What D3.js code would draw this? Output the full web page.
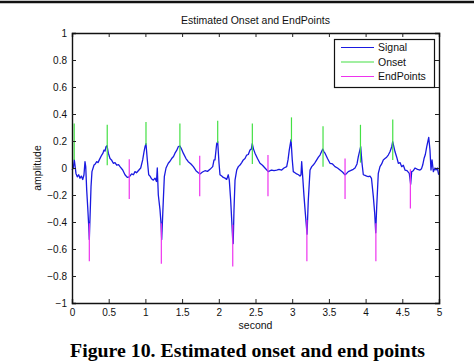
<!DOCTYPE html>
<html>
<head>
<meta charset="utf-8">
<script src="https://cdn.jsdelivr.net/npm/d3@7/dist/d3.min.js"></script>
<style>
  html, body { margin: 0; padding: 0; background: #fff; }
  svg { display: block; font-family: "Liberation Sans", Arial, Helvetica, sans-serif; }
</style>
</head>
<body>
<svg id="chart" width="474" height="364"></svg>
<script>
// ---------------- data ----------------
const title = "Estimated Onset and EndPoints";
const xLabel = "second";
const yLabel = "amplitude";
const caption = "Figure 10. Estimated onset and end points";
const seriesNames = ["Signal", "Onset", "EndPoints"];
const xTicks = [0, 0.5, 1, 1.5, 2, 2.5, 3, 3.5, 4, 4.5, 5];
const yTicks = [-1, -0.8, -0.6, -0.4, -0.2, 0, 0.2, 0.4, 0.6, 0.8, 1];

// signal samples: time (s)
const signalT = [
  0.000, 0.018, 0.031, 0.041, 0.054, 0.072, 0.091, 0.109, 0.127, 0.146,
  0.163, 0.177, 0.187, 0.200, 0.214, 0.228, 0.236, 0.249, 0.259, 0.272,
  0.300, 0.317, 0.337, 0.354, 0.372, 0.405, 0.422, 0.436, 0.450, 0.463,
  0.477, 0.495, 0.518, 0.538, 0.563, 0.586, 0.609, 0.634, 0.654, 0.691,
  0.722, 0.753, 0.781, 0.813, 0.837, 0.858, 0.879, 0.903, 0.936, 0.963,
  0.981, 0.995, 1.008, 1.026, 1.045, 1.063, 1.083, 1.108, 1.131, 1.151,
  1.162, 1.176, 1.199, 1.213, 1.222, 1.244, 1.258, 1.281, 1.312, 1.335,
  1.358, 1.383, 1.403, 1.426, 1.448, 1.471, 1.492, 1.516, 1.553, 1.584,
  1.621, 1.653, 1.689, 1.721, 1.744, 1.778, 1.812, 1.846, 1.880, 1.917,
  1.935, 1.948, 1.971, 1.985, 2.003, 2.016, 2.040, 2.061, 2.084, 2.108,
  2.129, 2.143, 2.162, 2.176, 2.189, 2.196, 2.207, 2.221, 2.244, 2.266,
  2.289, 2.312, 2.334, 2.357, 2.380, 2.402, 2.425, 2.443, 2.456, 2.473,
  2.493, 2.527, 2.561, 2.595, 2.629, 2.674, 2.698, 2.721, 2.752, 2.789,
  2.820, 2.857, 2.888, 2.925, 2.943, 2.960, 2.984, 3.001, 3.015, 3.038,
  3.061, 3.086, 3.106, 3.120, 3.129, 3.143, 3.161, 3.179, 3.198, 3.202,
  3.219, 3.243, 3.266, 3.287, 3.311, 3.334, 3.357, 3.379, 3.399, 3.416,
  3.433, 3.447, 3.481, 3.515, 3.549, 3.583, 3.617, 3.651, 3.685, 3.719,
  3.742, 3.764, 3.794, 3.832, 3.856, 3.883, 3.901, 3.933, 3.951, 3.969,
  3.992, 4.015, 4.037, 4.060, 4.080, 4.105, 4.124, 4.138, 4.151, 4.173,
  4.196, 4.219, 4.241, 4.264, 4.287, 4.309, 4.332, 4.356, 4.369, 4.401,
  4.424, 4.446, 4.469, 4.492, 4.514, 4.537, 4.564, 4.595, 4.614, 4.628,
  4.650, 4.673, 4.707, 4.741, 4.762, 4.778, 4.796, 4.814, 4.833, 4.860,
  4.877, 4.891, 4.905, 4.923, 4.946, 4.959, 4.977, 4.996
];
// signal samples: amplitude
const signalY = [
  -0.015, 0.000, 0.060, 0.020, -0.040, -0.065, -0.050, -0.076, -0.060, -0.085,
  -0.050, 0.047, 0.010, -0.160, -0.290, -0.430, -0.530, -0.310, -0.140, -0.027,
  0.022, 0.030, 0.047, 0.040, 0.060, 0.096, 0.110, 0.133, 0.125, 0.158,
  0.165, 0.110, 0.070, 0.060, 0.035, 0.040, 0.022, 0.025, 0.010, -0.015,
  -0.050, -0.070, -0.065, -0.044, -0.050, -0.027, -0.035, -0.020, 0.000, 0.060,
  0.120, 0.158, 0.180, 0.060, -0.050, -0.060, -0.080, -0.090, -0.075, -0.100,
  0.000, -0.200, -0.310, -0.410, -0.530, -0.240, -0.064, 0.000, 0.035, 0.050,
  0.070, 0.085, 0.110, 0.130, 0.158, 0.163, 0.140, 0.110, 0.070, 0.047,
  0.030, 0.010, -0.020, -0.035, -0.044, -0.030, -0.020, -0.025, -0.010, 0.010,
  0.060, 0.060, 0.180, 0.195, 0.035, -0.050, -0.060, -0.070, -0.075, -0.084,
  -0.050, -0.090, -0.240, -0.385, -0.530, -0.560, -0.310, -0.090, -0.015, 0.010,
  0.022, 0.040, 0.060, 0.070, 0.096, 0.100, 0.133, 0.140, 0.180, 0.140,
  0.110, 0.070, 0.035, 0.020, 0.000, -0.027, -0.020, -0.015, -0.020, -0.015,
  -0.010, -0.015, 0.000, 0.010, 0.060, 0.133, 0.210, 0.060, -0.027, -0.035,
  -0.044, -0.050, -0.060, -0.050, 0.047, -0.064, -0.210, -0.336, -0.460, -0.490,
  -0.240, -0.015, 0.010, 0.022, 0.040, 0.060, 0.080, 0.096, 0.120, 0.140,
  0.120, 0.110, 0.070, 0.035, 0.030, 0.010, 0.000, -0.015, -0.030, -0.050,
  -0.040, -0.027, -0.020, -0.010, 0.000, 0.030, 0.084, 0.158, 0.035, -0.050,
  -0.055, -0.060, -0.064, -0.060, -0.076, -0.210, -0.336, -0.480, -0.290, -0.040,
  0.010, 0.030, 0.060, 0.070, 0.080, 0.096, 0.120, 0.158, 0.195, 0.120,
  0.080, 0.035, 0.040, 0.010, 0.020, -0.015, -0.020, -0.040, -0.120, -0.027,
  -0.020, 0.000, -0.010, -0.015, -0.005, 0.022, 0.070, 0.100, 0.158, 0.227,
  0.133, -0.015, 0.060, -0.027, 0.000, -0.015, 0.000, -0.050
];

// onset markers (green): time, bottom, top
const onsetT    = [0.030, 0.480, 1.008, 1.470, 1.985, 2.457, 2.990, 3.420, 3.930, 4.370];
const onsetLow  = [0.060, 0.020, 0.170, 0.020, 0.185, 0.030, 0.195, 0.010, 0.040, 0.060];
const onsetHigh = [0.330, 0.320, 0.340, 0.330, 0.350, 0.330, 0.375, 0.310, 0.320, 0.360];

// end-point markers (magenta): time, bottom, top
const endT    = [0.236, 0.780, 1.217, 1.740, 2.190, 2.670, 3.200, 3.720, 4.140, 4.610];
const endLow  = [-0.69, -0.23, -0.71, -0.21, -0.73, -0.21, -0.69, -0.23, -0.69, -0.30];
const endHigh = [-0.41, 0.065, -0.41, 0.090, -0.42, 0.096, -0.385, 0.070, -0.41, -0.01];

// ---------------- drawing ----------------
const colors = { signal: "#1a1ae0", onset: "#44e044", end: "#ee33ee" };
const sansFont = "'Liberation Sans', Arial, Helvetica, sans-serif";
const serifFont = "'Liberation Serif', 'Times New Roman', Times, serif";
const svg = d3.select("#chart");
const W = 474, H = 364;
const L = 72, R = 439, T = 33, B = 303;

const x = d3.scaleLinear().domain([0, 5]).range([L, R]);
const y = d3.scaleLinear().domain([-1, 1]).range([B, T]);

// top border line of the figure
svg.append("line").attr("x1", 0).attr("x2", W).attr("y1", 2).attr("y2", 2)
  .attr("stroke", "#111").attr("stroke-width", 2.5);

// plot background
svg.append("rect").attr("x", L).attr("y", T).attr("width", R - L).attr("height", B - T)
  .attr("fill", "#fff");

// signal
const sig = signalT.map((t, i) => [t, signalY[i]]);
const line = d3.line().x(d => x(d[0])).y(d => y(d[1]));
svg.append("path").datum(sig).attr("d", line)
  .attr("fill", "none").attr("stroke", colors.signal).attr("stroke-width", 1.3)
  .attr("stroke-linejoin", "round");

// onset markers
svg.append("g").selectAll("line").data(onsetT).join("line")
  .attr("x1", d => x(d)).attr("x2", d => x(d))
  .attr("y1", (d, i) => y(onsetLow[i])).attr("y2", (d, i) => y(onsetHigh[i]))
  .attr("stroke", colors.onset).attr("stroke-width", 1.2);

// end-point markers
svg.append("g").selectAll("line").data(endT).join("line")
  .attr("x1", d => x(d)).attr("x2", d => x(d))
  .attr("y1", (d, i) => y(endLow[i])).attr("y2", (d, i) => y(endHigh[i]))
  .attr("stroke", colors.end).attr("stroke-width", 1.2);

// axes (MATLAB box style with inward ticks)
const tickLen = 4;
const xb = svg.append("g").attr("transform", `translate(0,${B})`)
  .call(d3.axisBottom(x).tickValues(xTicks).tickSize(-tickLen).tickPadding(6)
        .tickFormat(d => d3.format("")(d)));
const xt = svg.append("g").attr("transform", `translate(0,${T})`)
  .call(d3.axisTop(x).tickValues(xTicks).tickSize(-tickLen).tickFormat(""));
const yl = svg.append("g").attr("transform", `translate(${L},0)`)
  .call(d3.axisLeft(y).tickValues(yTicks).tickSize(-tickLen).tickPadding(5)
        .tickFormat(d => d3.format("")(+d.toFixed(1))));
const yr = svg.append("g").attr("transform", `translate(${R},0)`)
  .call(d3.axisRight(y).tickValues(yTicks).tickSize(-tickLen).tickFormat(""));
[xb, xt, yl, yr].forEach(g => {
  g.select(".domain").attr("stroke", "#111").attr("stroke-width", 1.4);
  g.selectAll(".tick line").attr("stroke", "#222").attr("stroke-width", 1);
  g.selectAll("text").style("font-size", "10px").attr("fill", "#111")
    .style("font-family", sansFont);
});
xb.selectAll(".tick line").filter(d => d === 0 || d === 5).remove();
xt.selectAll(".tick line").filter(d => d === 0 || d === 5).remove();
yl.selectAll(".tick line").filter(d => d === -1 || d === 1).remove();
yr.selectAll(".tick line").filter(d => d === -1 || d === 1).remove();

// title and labels
svg.append("text").attr("x", (L + R) / 2).attr("y", 24).attr("text-anchor", "middle")
  .style("font-family", sansFont).style("font-size", "10.5px").attr("fill", "#111").text(title);
svg.append("text").attr("x", (L + R) / 2).attr("y", 329).attr("text-anchor", "middle")
  .style("font-family", sansFont).style("font-size", "10.5px").attr("fill", "#111").text(xLabel);
svg.append("text").attr("transform", `translate(41,${(T + B) / 2}) rotate(-90)`)
  .attr("text-anchor", "middle").style("font-family", sansFont).style("font-size", "10.5px")
  .attr("fill", "#111").text(yLabel);

// legend
const lg = svg.append("g");
lg.append("rect").attr("x", 334.5).attr("y", 39.5).attr("width", 100).attr("height", 48)
  .attr("fill", "#fff").attr("stroke", "#111").attr("stroke-width", 1.2);
const legColors = [colors.signal, colors.onset, colors.end];
const legY = [47.5, 62, 76.5];
seriesNames.forEach((name, i) => {
  lg.append("line").attr("x1", 341).attr("x2", 374).attr("y1", legY[i]).attr("y2", legY[i])
    .attr("stroke", legColors[i]).attr("stroke-width", 1.2);
  lg.append("text").attr("x", 378).attr("y", legY[i] + 3.8)
    .style("font-family", sansFont).style("font-size", "10.5px")
    .attr("fill", "#111").text(name);
});

// caption
const cap = svg.append("text").attr("x", 247.5).attr("y", 357).attr("text-anchor", "middle")
  .style("font-family", serifFont).style("font-weight", "bold").style("font-size", "18px")
  .attr("fill", "#000").text(caption);
const w = cap.node().getComputedTextLength();
if (w > 0) cap.style("font-size", (18 * 355 / w).toFixed(2) + "px");
</script>
</body>
</html>
